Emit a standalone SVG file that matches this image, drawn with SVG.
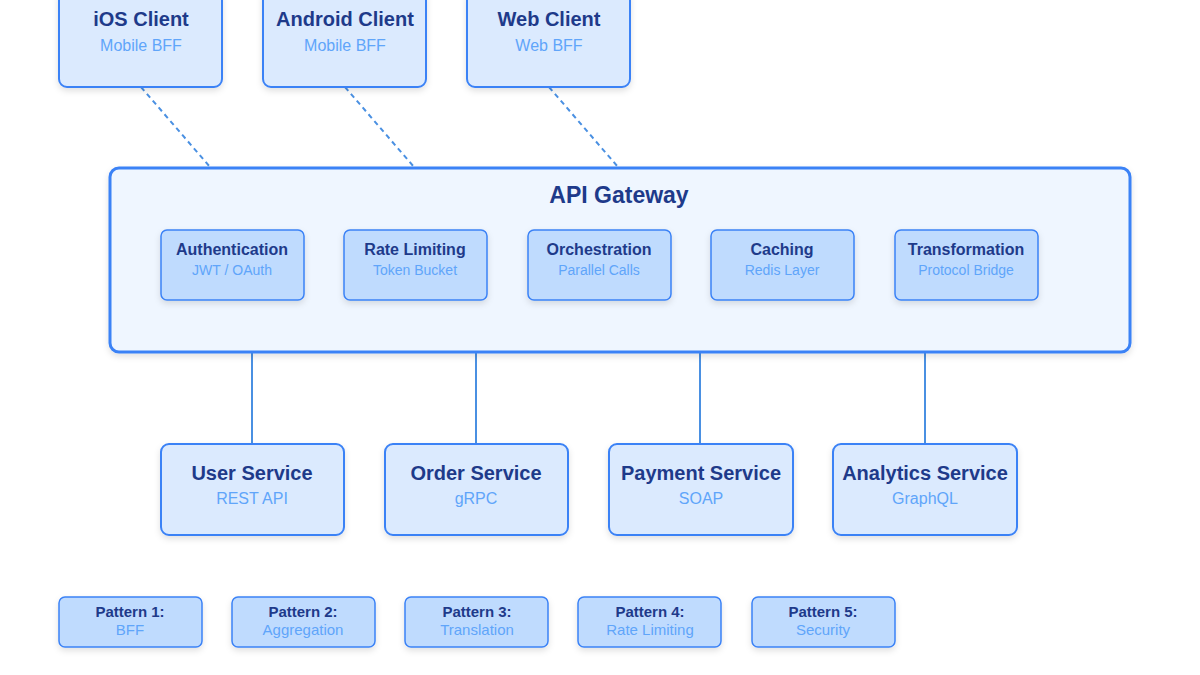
<svg xmlns="http://www.w3.org/2000/svg" width="1200" height="675" viewBox="0 0 1200 675">
<defs>
<filter id="sh" x="-20%" y="-20%" width="140%" height="150%"><feDropShadow dx="0" dy="3" stdDeviation="3" flood-color="#000" flood-opacity="0.12"/></filter>
</defs>
<style>
text{font-family:"Liberation Sans",Arial,sans-serif;text-anchor:middle}
.n{fill:#dbeafe;stroke:#3b82f6;stroke-width:2;filter:url(#sh)}
.m{fill:#bfdbfe;stroke:#3b82f6;stroke-width:1.5;filter:url(#sh)}
.t{fill:#1e3a8a;font-weight:bold}
.s{fill:#60a5fa}
.c{stroke:#4a90e2;stroke-width:2;fill:none}
.d{stroke-dasharray:5,4}
</style>
<rect width="1200" height="675" fill="#fff"/>
<g id="connectors">
<line class="c d" x1="141" y1="87" x2="210" y2="167"/>
<line class="c d" x1="345" y1="87" x2="414" y2="167"/>
<line class="c d" x1="549" y1="87" x2="618" y2="167"/>
<line class="c" x1="252" y1="352" x2="252" y2="444"/>
<line class="c" x1="476" y1="352" x2="476" y2="444"/>
<line class="c" x1="700" y1="352" x2="700" y2="444"/>
<line class="c" x1="925" y1="352" x2="925" y2="444"/>
</g>
<g id="ios"><rect class="n" x="59" y="-10" width="163" height="97" rx="8"/><text class="t" x="141" y="26" font-size="20">iOS Client</text><text class="s" x="141" y="51" font-size="16">Mobile BFF</text></g>
<g id="android"><rect class="n" x="263" y="-10" width="163" height="97" rx="8"/><text class="t" x="345" y="26" font-size="20">Android Client</text><text class="s" x="345" y="51" font-size="16">Mobile BFF</text></g>
<g id="web"><rect class="n" x="467" y="-10" width="163" height="97" rx="8"/><text class="t" x="549" y="26" font-size="20">Web Client</text><text class="s" x="549" y="51" font-size="16">Web BFF</text></g>
<g id="gateway"><rect x="110" y="168" width="1020" height="184" rx="9" fill="#eff6ff" stroke="#3b82f6" stroke-width="3" filter="url(#sh)"/><text class="t" x="619" y="203" font-size="23">API Gateway</text></g>
<g id="auth"><rect class="m" x="161" y="230" width="143" height="70" rx="6"/><text class="t" x="232" y="255" font-size="16">Authentication</text><text class="s" x="232" y="275" font-size="14">JWT / OAuth</text></g>
<g id="rate"><rect class="m" x="344" y="230" width="143" height="70" rx="6"/><text class="t" x="415" y="255" font-size="16">Rate Limiting</text><text class="s" x="415" y="275" font-size="14">Token Bucket</text></g>
<g id="orch"><rect class="m" x="528" y="230" width="143" height="70" rx="6"/><text class="t" x="599" y="255" font-size="16">Orchestration</text><text class="s" x="599" y="275" font-size="14">Parallel Calls</text></g>
<g id="cache"><rect class="m" x="711" y="230" width="143" height="70" rx="6"/><text class="t" x="782" y="255" font-size="16">Caching</text><text class="s" x="782" y="275" font-size="14">Redis Layer</text></g>
<g id="trans"><rect class="m" x="895" y="230" width="143" height="70" rx="6"/><text class="t" x="966" y="255" font-size="16">Transformation</text><text class="s" x="966" y="275" font-size="14">Protocol Bridge</text></g>
<g id="user"><rect class="n" x="161" y="444" width="183" height="91" rx="8"/><text class="t" x="252" y="480" font-size="20">User Service</text><text class="s" x="252" y="504" font-size="16">REST API</text></g>
<g id="order"><rect class="n" x="385" y="444" width="183" height="91" rx="8"/><text class="t" x="476" y="480" font-size="20">Order Service</text><text class="s" x="476" y="504" font-size="16">gRPC</text></g>
<g id="payment"><rect class="n" x="609" y="444" width="184" height="91" rx="8"/><text class="t" x="701" y="480" font-size="20">Payment Service</text><text class="s" x="701" y="504" font-size="16">SOAP</text></g>
<g id="analytics"><rect class="n" x="833" y="444" width="184" height="91" rx="8"/><text class="t" x="925" y="480" font-size="20">Analytics Service</text><text class="s" x="925" y="504" font-size="16">GraphQL</text></g>
<g id="p1"><rect class="m" x="59" y="597" width="143" height="50" rx="6"/><text class="t" x="130" y="617" font-size="15">Pattern 1:</text><text class="s" x="130" y="635" font-size="15">BFF</text></g>
<g id="p2"><rect class="m" x="232" y="597" width="143" height="50" rx="6"/><text class="t" x="303" y="617" font-size="15">Pattern 2:</text><text class="s" x="303" y="635" font-size="15">Aggregation</text></g>
<g id="p3"><rect class="m" x="405" y="597" width="143" height="50" rx="6"/><text class="t" x="477" y="617" font-size="15">Pattern 3:</text><text class="s" x="477" y="635" font-size="15">Translation</text></g>
<g id="p4"><rect class="m" x="578" y="597" width="143" height="50" rx="6"/><text class="t" x="650" y="617" font-size="15">Pattern 4:</text><text class="s" x="650" y="635" font-size="15">Rate Limiting</text></g>
<g id="p5"><rect class="m" x="752" y="597" width="143" height="50" rx="6"/><text class="t" x="823" y="617" font-size="15">Pattern 5:</text><text class="s" x="823" y="635" font-size="15">Security</text></g>
</svg>
